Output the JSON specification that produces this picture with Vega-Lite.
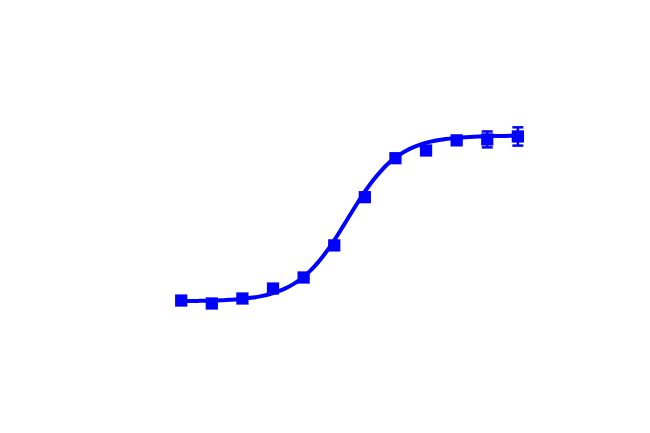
{
  "$schema": "https://vega.github.io/schema/vega-lite/v6.json",
  "autosize": "none",
  "width": 449,
  "height": 297,
  "padding": {"left": 133, "top": 40, "right": 68, "bottom": 96},
  "background": "#ffffff",
  "config": {"view": {"stroke": null}, "font": "Liberation Sans"},
  "datasets": {
    "points": [
      {"conc": 5.645e-11, "rlu": 307, "lo": 297, "hi": 317},
      {"conc": 1.694e-10, "rlu": 282, "lo": 272, "hi": 292},
      {"conc": 5.081e-10, "rlu": 324, "lo": 314, "hi": 334},
      {"conc": 1.524e-9, "rlu": 408, "lo": 398, "hi": 418},
      {"conc": 4.572e-9, "rlu": 501, "lo": 491, "hi": 511},
      {"conc": 1.372e-8, "rlu": 771, "lo": 761, "hi": 781},
      {"conc": 4.115e-8, "rlu": 1177, "lo": 1167, "hi": 1187},
      {"conc": 1.235e-7, "rlu": 1505, "lo": 1495, "hi": 1515},
      {"conc": 3.704e-7, "rlu": 1570, "lo": 1560, "hi": 1580},
      {"conc": 1.111e-6, "rlu": 1655, "lo": 1645, "hi": 1665},
      {"conc": 3.333e-6, "rlu": 1663, "lo": 1596, "hi": 1730},
      {"conc": 1e-5, "rlu": 1688, "lo": 1611, "hi": 1765}
    ],
    "curve": [
      {"conc": 5.623e-11, "rlu": 302},
      {"conc": 7.499e-11, "rlu": 303},
      {"conc": 1e-10, "rlu": 304},
      {"conc": 1.334e-10, "rlu": 305},
      {"conc": 1.778e-10, "rlu": 307},
      {"conc": 2.371e-10, "rlu": 309},
      {"conc": 3.162e-10, "rlu": 313},
      {"conc": 4.217e-10, "rlu": 317},
      {"conc": 5.623e-10, "rlu": 324},
      {"conc": 7.499e-10, "rlu": 332},
      {"conc": 1e-9, "rlu": 344},
      {"conc": 1.334e-9, "rlu": 360},
      {"conc": 1.778e-9, "rlu": 381},
      {"conc": 2.371e-9, "rlu": 409},
      {"conc": 3.162e-9, "rlu": 445},
      {"conc": 4.217e-9, "rlu": 492},
      {"conc": 5.623e-9, "rlu": 550},
      {"conc": 7.499e-9, "rlu": 622},
      {"conc": 1e-8, "rlu": 707},
      {"conc": 1.334e-8, "rlu": 804},
      {"conc": 1.778e-8, "rlu": 910},
      {"conc": 2.371e-8, "rlu": 1020},
      {"conc": 3.162e-8, "rlu": 1128},
      {"conc": 4.217e-8, "rlu": 1231},
      {"conc": 5.623e-8, "rlu": 1323},
      {"conc": 7.499e-8, "rlu": 1403},
      {"conc": 1e-7, "rlu": 1470},
      {"conc": 1.334e-7, "rlu": 1523},
      {"conc": 1.778e-7, "rlu": 1566},
      {"conc": 2.371e-7, "rlu": 1598},
      {"conc": 3.162e-7, "rlu": 1623},
      {"conc": 4.217e-7, "rlu": 1642},
      {"conc": 5.623e-7, "rlu": 1656},
      {"conc": 7.499e-7, "rlu": 1666},
      {"conc": 1e-6, "rlu": 1674},
      {"conc": 1.334e-6, "rlu": 1680},
      {"conc": 1.778e-6, "rlu": 1684},
      {"conc": 2.371e-6, "rlu": 1687},
      {"conc": 3.162e-6, "rlu": 1689},
      {"conc": 4.217e-6, "rlu": 1691},
      {"conc": 5.623e-6, "rlu": 1692},
      {"conc": 7.499e-6, "rlu": 1693},
      {"conc": 1e-5, "rlu": 1694}
    ]
  },
  "layer": [
    {
      "data": {"name": "curve"},
      "mark": {"type": "line", "color": "#0000ff", "strokeWidth": 4, "interpolate": "monotone"},
      "encoding": {
        "x": {
          "field": "conc", "type": "quantitative",
          "scale": {"type": "log", "domain": [1e-11, 1e-4], "nice": false},
          "axis": {
            "title": "2-(methylthio)ADP, M",
            "titleColor": "#ffffff", "titleFontSize": 22, "titleFontWeight": "normal", "titlePadding": 14,
            "values": [1e-11, 1e-10, 1e-9, 1e-8, 1e-7, 1e-6, 1e-5, 1e-4],
            "labelExpr": "{'-11':'10⁻¹¹','-10':'10⁻¹⁰','-9':'10⁻⁹','-8':'10⁻⁸','-7':'10⁻⁷','-6':'10⁻⁶','-5':'10⁻⁵','-4':'10⁻⁴'}[''+round(log(datum.value)/LN10)]",
            "labelColor": "#ffffff", "labelFontSize": 19, "labelPadding": 6,
            "domainColor": "#ffffff", "tickColor": "#ffffff", "domainWidth": 2, "tickWidth": 2,
            "grid": false
          }
        },
        "y": {
          "field": "rlu", "type": "quantitative",
          "scale": {"domain": [0, 2500], "nice": false},
          "axis": {
            "title": "RLU",
            "titleColor": "#ffffff", "titleFontSize": 22, "titleFontWeight": "normal", "titlePadding": 20,
            "values": [0, 500, 1000, 1500, 2000, 2500],
            "labelColor": "#ffffff", "labelFontSize": 22, "labelFontWeight": "bold", "labelPadding": 6,
            "domainColor": "#ffffff", "tickColor": "#ffffff", "domainWidth": 2, "tickWidth": 2,
            "grid": false
          }
        }
      }
    },
    {
      "data": {"name": "points"},
      "mark": {"type": "rule", "color": "#0000ff", "strokeWidth": 2.5},
      "encoding": {
        "x": {"field": "conc", "type": "quantitative"},
        "y": {"field": "lo", "type": "quantitative"},
        "y2": {"field": "hi"}
      }
    },
    {
      "data": {"name": "points"},
      "mark": {"type": "tick", "color": "#0000ff", "opacity": 1, "thickness": 2.5, "size": 11, "orient": "horizontal"},
      "encoding": {
        "x": {"field": "conc", "type": "quantitative"},
        "y": {"field": "lo", "type": "quantitative"}
      }
    },
    {
      "data": {"name": "points"},
      "mark": {"type": "tick", "color": "#0000ff", "opacity": 1, "thickness": 2.5, "size": 11, "orient": "horizontal"},
      "encoding": {
        "x": {"field": "conc", "type": "quantitative"},
        "y": {"field": "hi", "type": "quantitative"}
      }
    },
    {
      "data": {"name": "points"},
      "mark": {"type": "square", "color": "#0000ff", "filled": true, "opacity": 1, "size": 150},
      "encoding": {
        "x": {"field": "conc", "type": "quantitative"},
        "y": {"field": "rlu", "type": "quantitative"}
      }
    }
  ]
}
